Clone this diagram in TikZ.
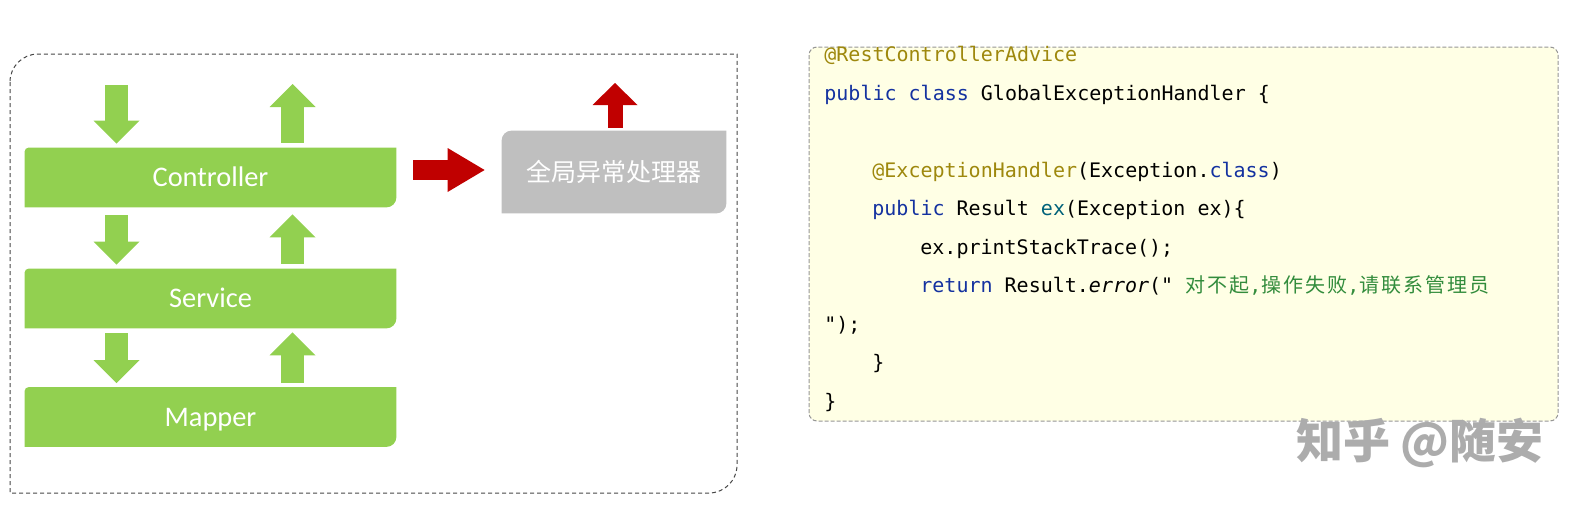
\documentclass[tikz,border=0pt]{standalone}
\usepackage{fontspec}
\setmainfont{Carlito}
\setmonofont{DejaVu Sans Mono}
\newfontfamily\cjk{Noto Sans CJK SC}
\newfontfamily\cjkcode{Noto Sans CJK SC}[LetterSpace=10]
\usetikzlibrary{arrows.meta,calc,backgrounds}
\definecolor{lgreen}{RGB}{146,208,80}
\definecolor{dred}{RGB}{192,0,0}
\definecolor{boxgray}{RGB}{191,191,191}
\definecolor{codebg}{RGB}{255,255,229}
\definecolor{codeborder}{RGB}{150,150,150}
\definecolor{outerline}{RGB}{70,70,70}
\definecolor{ann}{RGB}{158,136,13}
\definecolor{kw}{RGB}{20,50,160}
\definecolor{mth}{RGB}{0,98,122}
\definecolor{str}{RGB}{50,140,60}
\definecolor{wmgray}{RGB}{172,172,172}
\newcommand\diagfill[4]{\fill[#1] ([yshift=-#3]#2.north west) arc[start angle=180,end angle=90,radius=#3] -- (#2.north east) -- ([yshift=#4]#2.south east) arc[start angle=0,end angle=-90,radius=#4] -- (#2.south west) -- cycle;}
\tikzset{
  layerbox/.style={inner sep=0pt, text=white, minimum width=185.5pt, minimum height=29.5pt,
    font=\fontsize{14.2}{16}\selectfont, text height=9.2pt, text depth=0pt},
  handlerbox/.style={inner sep=0pt, text=white, minimum width=112pt, minimum height=41pt,
    font=\cjk\fontsize{12.5}{14}\selectfont},
  garrow/.style={draw=lgreen, line width=11.5pt, -{Triangle[width=23pt,length=11.5pt,line width=0pt]}},
  rarrowr/.style={draw=dred, line width=10pt, -{Triangle[width=22pt,length=18.5pt,line width=0pt]}},
  rarrowu/.style={draw=dred, line width=7.5pt, -{Triangle[width=22.5pt,length=11pt,line width=0pt]}},
  outerbox/.style={draw=outerline, line width=0.5pt, dash pattern=on 2pt off 1.5pt},
  codebox/.style={draw=codeborder, fill=codebg, line width=0.5pt, dash pattern=on 2pt off 1pt, rounded corners=4pt},
  codeline/.style={anchor=base west, inner sep=0pt, font=\ttfamily\fontsize{10}{12}\selectfont, text=black},
  wmark/.style={inner sep=0pt, text=wmgray, font=\cjk\bfseries\fontsize{23.5}{25}\selectfont}
}
\begin{document}
\begin{tikzpicture}[x=0.5pt,y=-0.5pt]
\useasboundingbox (0,0) rectangle (1585,504);

% outer dashed frame
\draw[outerbox] (10,82) -- (10,493) -- (709,493) arc[start angle=-90,end angle=0,radius=14pt] -- (737,54) -- (38,54) arc[start angle=90,end angle=180,radius=14pt] -- cycle;

% layer boxes
\node[layerbox] (ctrl) at (210.5,177.5) {Controller};
\node[layerbox] (serv) at (210.5,298.5) {Service};
\node[layerbox] (map) at (210.5,417) {Mapper};
\node[handlerbox] (handler) at (614,172) {全局异常处理器};
\begin{scope}[on background layer]
\diagfill{lgreen}{ctrl}{2pt}{5pt}
\diagfill{lgreen}{serv}{2pt}{5pt}
\diagfill{lgreen}{map}{2pt}{5pt}
\diagfill{boxgray}{handler}{5pt}{5pt}
\end{scope}

% green arrows
\coordinate (d0) at (116.5,85);
\coordinate (u0) at (292.5,84);
\draw[garrow, shorten >=2pt] (d0) -- (d0 |- ctrl.north);
\draw[garrow, shorten <=2.5pt] (u0 |- ctrl.north) -- (u0);
\draw[garrow, shorten <=4pt, shorten >=2pt] (d0 |- ctrl.south) -- (d0 |- serv.north);
\draw[garrow, shorten <=2.5pt, shorten >=3.5pt] (u0 |- serv.north) -- (u0 |- ctrl.south);
\draw[garrow, shorten <=2.5pt, shorten >=2pt] (d0 |- serv.south) -- (d0 |- map.north);
\draw[garrow, shorten <=2pt, shorten >=2pt] (u0 |- map.north) -- (u0 |- serv.south);

% red arrows
\draw[rarrowr] ($(ctrl.east)+(17,-7.5)$) -- ($(handler.west)+(-17,-2)$);
\coordinate (ru) at (615,83);
\draw[rarrowu, shorten <=1.5pt] (ru |- handler.north) -- (ru);

% code panel
\draw[codebox] (809,47) rectangle (1558,421);
\node[codeline] (l1) at (824,61.5) {\textcolor{ann}{@RestControllerAdvice}};
\node[codeline] (l2) at (824,100) {\textcolor{kw}{public class} GlobalExceptionHandler \{};
\node[codeline] (l4) at (872,177) {\textcolor{ann}{@ExceptionHandler}(Exception.\textcolor{kw}{class})};
\node[codeline] (l5) at (872,215.5) {\textcolor{kw}{public} Result \textcolor{mth}{ex}(Exception ex)\{};
\node[codeline] (l6) at (920,254) {ex.printStackTrace();};
\node[codeline] (l7) at (920,292.5) {\textcolor{kw}{return} Result.\textit{error}(" \textcolor{str}{{\cjkcode 对不起},{\cjkcode 操作失败},{\cjkcode 请联系管理员}}};
\node[codeline] (l8) at (824,331) {");};
\node[codeline] (l9) at (872,369.5) {\}};
\node[codeline] (l10) at (824,408) {\}};

% watermark
\node[wmark] (wm) at (1420,443) {知乎 @随安};
\end{tikzpicture}
\end{document}
